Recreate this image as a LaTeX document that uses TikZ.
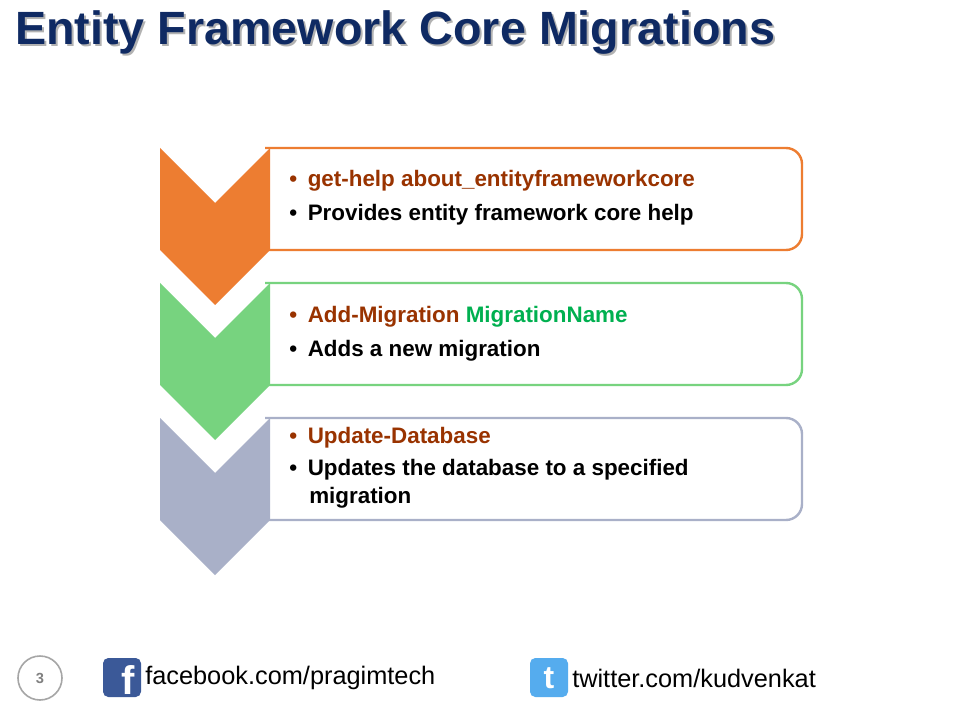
\documentclass[tikz,border=0pt]{standalone}
\usepackage{fontspec}
\setmainfont{Liberation Sans}
\definecolor{navy}{HTML}{0F2A63}
\definecolor{orng}{HTML}{ED7D31}
\definecolor{grn}{HTML}{77D37F}
\definecolor{gry}{HTML}{A9B0C8}
\definecolor{brn}{HTML}{993300}
\definecolor{mgrn}{HTML}{00B050}
\definecolor{fb}{HTML}{3B5998}
\definecolor{tw}{HTML}{55ACEE}
\begin{document}
\begin{tikzpicture}[x=0.75pt,y=-0.75pt,
  card/.style={line width=1.8pt,fill=white},
  itm/.style={anchor=west,font=\bfseries\fontsize{16.8}{21}\selectfont,align=left,inner sep=0pt},
  foot/.style={anchor=west,font=\fontsize{19}{22}\selectfont,inner sep=0pt}]
\useasboundingbox (0,0) rectangle (960,720);
\fill[white] (0,0) rectangle (960,720);
% title
\node[anchor=west,text=gray!60,font=\bfseries\fontsize{35}{40}\selectfont,inner sep=0pt] (tsh) at (17,35) {Entity Framework Core Migrations};
\node[anchor=west,text=navy,font=\bfseries\fontsize{35}{40}\selectfont,inner sep=0pt] (title) at (15,33) {Entity Framework Core Migrations};
% cards
\draw[card,draw=orng] (265,148) [rounded corners=12pt] -- (802,148) -- (802,250) [sharp corners] -- (265,250);
\draw[card,draw=grn] (265,283) [rounded corners=12pt] -- (802,283) -- (802,385) [sharp corners] -- (265,385);
\draw[card,draw=gry] (265,418) [rounded corners=12pt] -- (802,418) -- (802,520) [sharp corners] -- (265,520);
% chevrons
\fill[orng] (160,148) -- (215,203) -- (270,148) -- (270,250) -- (215,305) -- (160,250) -- cycle;
\fill[grn] (160,283) -- (215,338) -- (270,283) -- (270,385) -- (215,440) -- (160,385) -- cycle;
\fill[gry] (160,418) -- (215,473) -- (270,418) -- (270,520) -- (215,575) -- (160,520) -- cycle;
% texts
\node[itm,text=brn] (a1) at (289,181) {•\hspace{8pt}get-help about\_entityframeworkcore};
\node[itm] (a2) at (289,215) {•\hspace{8pt}Provides entity framework core help};
\node[itm,text=brn] (b1) at (289,317) {•\hspace{8pt}Add-Migration \textcolor{mgrn}{MigrationName}};
\node[itm] (b2) at (289,351) {•\hspace{8pt}Adds a new migration};
\node[itm,text=brn] (c1) at (289,438) {•\hspace{8pt}Update-Database};
\node[itm,anchor=north west] (c2) at (289,459) {•\hspace{8pt}Updates the database to a specified\\\hspace{15pt}migration};
% footer
\draw[gray!70,line width=1.2pt] (40,678) circle[radius=22];
\node[font=\bfseries\fontsize{11}{13}\selectfont,text=gray] (pg) at (40,678) {3};
\fill[fb,rounded corners=4pt] (103,658) rectangle (141,697);
\node[text=white,font=\bfseries\fontsize{30}{30}\selectfont,anchor=south] (f) at (128,699) {f};
\node[foot] (fbt) at (145,678) {facebook.com/pragimtech};
\fill[tw,rounded corners=4pt] (530,658) rectangle (568,697);
\node[text=white,font=\bfseries\fontsize{24}{24}\selectfont] (t) at (549,678) {t};
\node[foot] (twt) at (572,678) {twitter.com/kudvenkat};
\end{tikzpicture}
\end{document}
